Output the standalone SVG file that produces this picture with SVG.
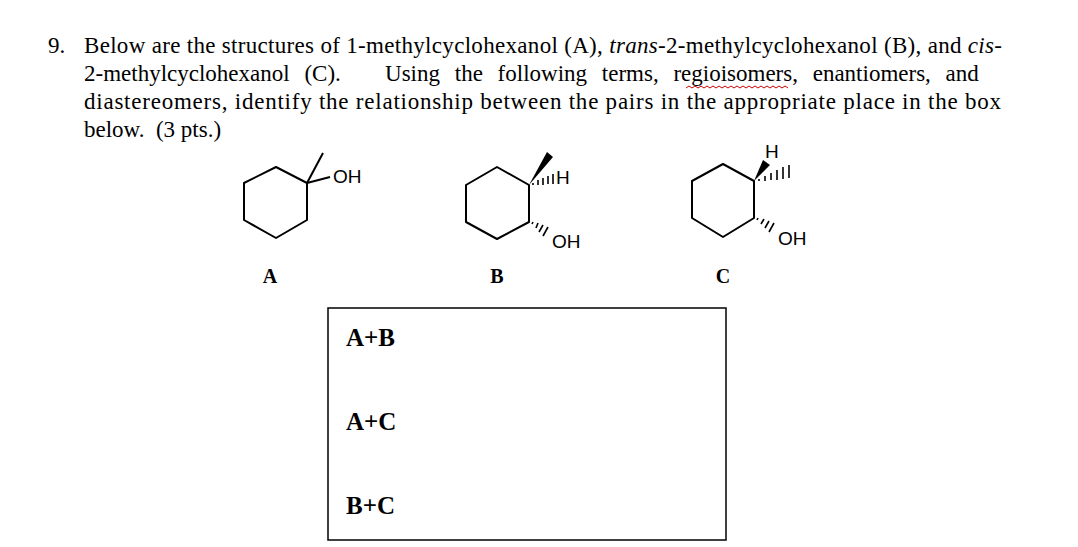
<svg xmlns="http://www.w3.org/2000/svg" width="1078" height="547" viewBox="0 0 1078 547">
<style>
.t{font-family:"Liberation Serif",serif;font-size:23px;fill:#000}
.b{font-family:"Liberation Serif",serif;font-weight:bold;fill:#000}
.c{font-family:"Liberation Sans",Arial,sans-serif;font-size:19px;fill:#000}
.bond{stroke:#000;stroke-width:2;fill:none;stroke-linejoin:round}
.hash{stroke:#000;stroke-width:1.6}
</style>
<rect width="1078" height="547" fill="#fff"/>
<g id="question">
<text class="t" x="48" y="53">9.</text>
<text class="t" x="84" y="53" textLength="918" lengthAdjust="spacing">Below are the structures of 1-methylcyclohexanol (A), <tspan font-style="italic">trans</tspan>-2-methylcyclohexanol (B), and <tspan font-style="italic">cis</tspan>-</text>
<text class="t" x="84" y="81" xml:space="preserve" word-spacing="9">2-methylcyclohexanol (C).   Using the following terms, regioisomers, enantiomers, and</text>
<text class="t" x="84" y="109" textLength="917" lengthAdjust="spacing">diastereomers, identify the relationship between the pairs in the appropriate place in the box</text>
<text class="t" x="84" y="137" xml:space="preserve">below.  (3 pts.)</text>
<path d="M686 88 l3 -2 l3 2 l3 -2 l3 2 l3 -2 l3 2 l3 -2 l3 2 l3 -2 l3 2 l3 -2 l3 2 l3 -2 l3 2 l3 -2 l3 2 l3 -2 l3 2 l3 -2 l3 2 l3 -2 l3 2 l3 -2 l3 2 l3 -2 l3 2 l3 -2 l3 2 l3 -2 l3 2 l3 -2 l3 2 l3 -2 l3 2" stroke="#c00" stroke-width="1" fill="none"/>
</g>
<g id="molA">
<polygon class="bond" points="276,167 307,183 307,220 276,238 244,220 244,183"/>
<line class="bond" x1="307" y1="183" x2="323" y2="153"/>
<line class="bond" x1="307" y1="183" x2="330" y2="177"/>
<text class="c" x="333" y="183">OH</text>
<text class="b" x="270" y="283" font-size="20" text-anchor="middle">A</text>
</g>
<g id="molB">
<polygon class="bond" points="497,167 529,185 529,222 497,239 466,222 466,185"/>
<polygon points="529,185 547,152 553,157" fill="#000"/>
<g class="hash"><line x1="533" y1="183" x2="533" y2="185"/><line x1="538" y1="180" x2="538" y2="185"/><line x1="543" y1="178" x2="543" y2="185"/><line x1="548" y1="176" x2="548" y2="184"/><line x1="553" y1="174" x2="553" y2="184"/></g>
<text class="c" x="556" y="184">H</text>
<g class="hash"><line x1="532" y1="224" x2="533" y2="222"/><line x1="536" y1="228" x2="538" y2="223"/><line x1="539" y1="232" x2="543" y2="225"/><line x1="543" y1="236" x2="548" y2="227"/></g>
<text class="c" x="552" y="248">OH</text>
<text class="b" x="497" y="283" font-size="20" text-anchor="middle">B</text>
</g>
<g id="molC">
<polygon class="bond" points="723,164 754,181 754,218 723,237 692,218 692,181"/>
<polygon points="754,181 763,160 770,165" fill="#000"/>
<g class="hash"><line x1="759" y1="179" x2="759" y2="181"/><line x1="765" y1="176" x2="765" y2="181"/><line x1="771" y1="173" x2="771" y2="180"/><line x1="777" y1="170" x2="777" y2="180"/><line x1="783" y1="167" x2="783" y2="179"/><line x1="789" y1="165" x2="789" y2="178"/></g>
<text class="c" x="765" y="158">H</text>
<g class="hash"><line x1="757" y1="220" x2="758" y2="218"/><line x1="761" y1="224" x2="764" y2="219"/><line x1="765" y1="228" x2="769" y2="221"/><line x1="769" y1="232" x2="774" y2="223"/></g>
<text class="c" x="778" y="245">OH</text>
<text class="b" x="723" y="283" font-size="20" text-anchor="middle">C</text>
</g>
<g id="answerbox">
<rect x="328" y="308" width="398" height="232" fill="none" stroke="#000" stroke-width="1.5"/>
<text class="b" x="346" y="346" font-size="25">A+B</text>
<text class="b" x="346" y="430" font-size="25">A+C</text>
<text class="b" x="346" y="514" font-size="25">B+C</text>
</g>
</svg>
